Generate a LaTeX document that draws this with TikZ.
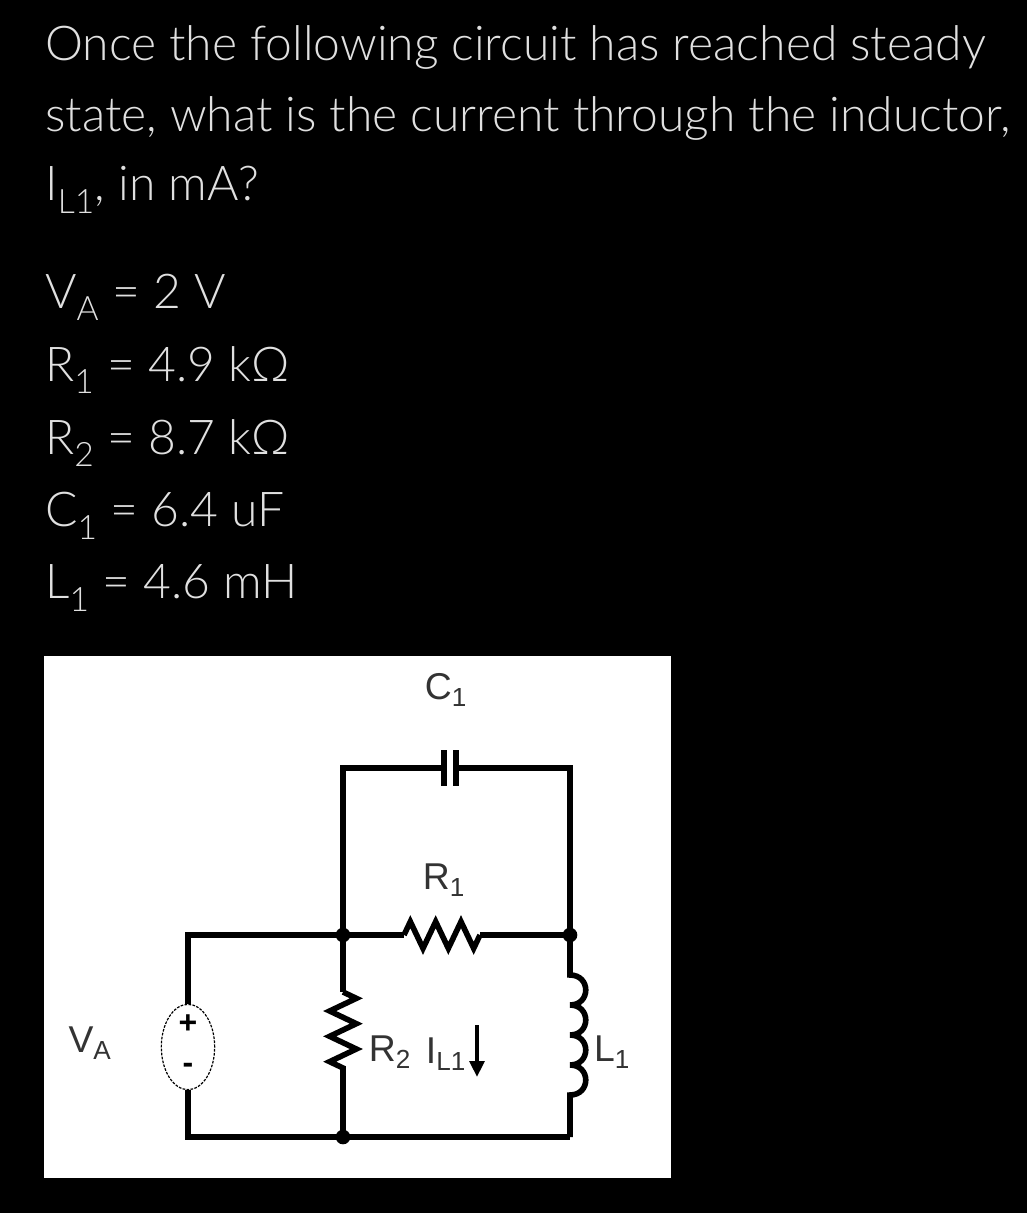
\documentclass[tikz,border=0pt]{standalone}
\usepackage{fontspec}
\setmainfont{Lato}[UprightFont=* Light]
\newfontfamily\cfont{Liberation Sans}
\usetikzlibrary{decorations.pathmorphing,arrows.meta,shapes.geometric}
\tikzset{txt/.style={anchor=west,text=white!88!black,font=\fontsize{36}{40}\selectfont,inner sep=0},
 wire/.style={line width=4.2pt,black},
 lab/.style={font=\cfont\fontsize{28}{30}\selectfont,text=black!80,inner sep=0},
 dot/.style={circle,fill=black,inner sep=0,minimum size=11pt}}
\begin{document}
\begin{tikzpicture}[x=0.75pt,y=-0.75pt]
\fill[black] (0,0) rectangle (1027,1213);
\useasboundingbox (0,0) rectangle (1027,1213);
\node[txt] (t1) at (45,47) {Once the following circuit has reached steady};
\node[txt] (t2) at (45,118) {state, what is the current through the inductor,};
\node[txt] (t3) at (45,190) {I\textsubscript{L1}, in mA?};
\node[txt] (v1) at (45,297) {V\textsubscript{A} = 2 V};
\node[txt] (v2) at (45,370) {R\textsubscript{1} = 4.9 kΩ};
\node[txt] (v3) at (45,443) {R\textsubscript{2} = 8.7 kΩ};
\node[txt] (v4) at (45,516) {C\textsubscript{1} = 6.4 uF};
\node[txt] (v5) at (45,588) {L\textsubscript{1} = 4.6 mH};
\fill[white] (44,656) rectangle (671,1178);
% nodes
\coordinate (tl) at (343,768); \coordinate (tr) at (570,768);
\coordinate (ml) at (188,935); \coordinate (mm) at (343,935); \coordinate (mr) at (570,935);
\coordinate (bl) at (188,1137); \coordinate (bm) at (343,1137); \coordinate (br) at (570,1137);
\coordinate (ls) at (570,975);
\node[draw,dashed,dash pattern=on 2pt off 1pt,line width=0.9pt,ellipse,minimum width=40pt,minimum height=64pt,inner sep=0] (va) at (188,1047) {};
\node[font=\cfont\bfseries\fontsize{24}{24}\selectfont] (plus) at (188,1024) {+};
\node[font=\cfont\bfseries\fontsize{24}{24}\selectfont] (minus) at (188,1068) {-};
\draw[wire] (va.north) -- (ml) -- (mm) -- (tl) -- (444,768);
\draw[wire] (444,750) -- (444,786);
\draw[wire] (456,750) -- (456,786);
\draw[wire] (456,768) -- (tr) -- (mr);
\draw[wire] (va.south) -- (bl) -- (br);
\draw[wire] (mm) -- (404,935);
\draw[wire,decorate,decoration={zigzag,segment length=19,amplitude=10}] (404,935) -- (480,935);
\draw[wire] (480,935) -- (mr);
\draw[wire] (mm) -- (343,992);
\draw[wire,decorate,decoration={zigzag,segment length=19,amplitude=10}] (343,992) -- (343,1080);
\draw[wire] (343,1080) -- (bm);
\draw[wire] (mr) -- (ls)
  .. controls (591,975) and (591,1005) .. (570,1005)
  .. controls (591,1005) and (591,1035) .. (570,1035)
  .. controls (591,1035) and (591,1065) .. (570,1065)
  .. controls (591,1065) and (591,1095) .. (570,1095) -- (br);
\node[dot] at (mm) {}; \node[dot] at (mr) {}; \node[dot] at (bm) {};
\node[lab] (c1) at (446,690) {C\textsubscript{1}};
\node[lab] (r1) at (444,880) {R\textsubscript{1}};
\node[lab] (r2) at (390,1052) {R\textsubscript{2}};
\node[lab] (il) at (446,1054) {I\textsubscript{L1}};
\node[lab] (l1) at (612,1052) {L\textsubscript{1}};
\node[lab] (vl) at (90,1043) {V\textsubscript{A}};
\draw[line width=3.5pt,-{Triangle[length=12pt,width=11pt]}] (477,1025) -- (477,1077);
\end{tikzpicture}
\end{document}
